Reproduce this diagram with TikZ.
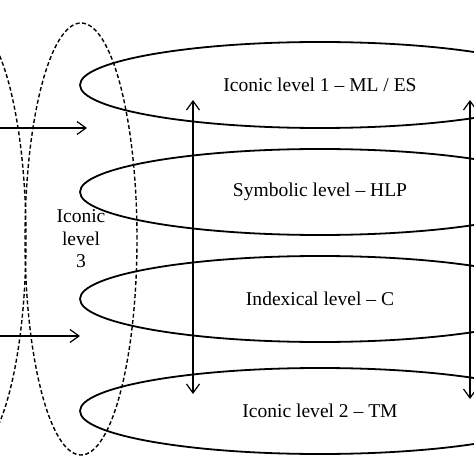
\documentclass[tikz,border=0pt]{standalone}
\usepackage{fontspec}
\setmainfont{Liberation Serif}
\usetikzlibrary{shapes.geometric,arrows.meta}

\begin{document}
\begin{tikzpicture}[
    x=1bp, y=-1bp,
    >={Straight Barb[length=9bp,width=13bp]},
    levelnode/.style={ellipse, draw=black, line width=1.8bp, minimum width=480bp, minimum height=86bp, inner sep=0pt, font=\fontsize{19.6}{22.6}\selectfont},
    dashednode/.style={ellipse, draw=black, line width=1.4bp, dash pattern=on 4bp off 2.5bp, minimum width=112bp, minimum height=432bp, inner sep=0pt, align=center, font=\fontsize{19.6}{22.6}\selectfont},
    flowline/.style={line width=1.2bp},
    ]
    \useasboundingbox (0,0) rectangle (474,474);
    \clip (0,0) rectangle (474,474);

    %Nodes
    \node[levelnode]  (iconic1)  at (320,85)  {Iconic level 1 -- ML / ES};
    \node[levelnode]  (symbolic) at (320,192) {Symbolic level -- HLP};
    \node[levelnode]  (indexical) at (320,299) {Indexical level -- C};
    \node[levelnode]  (iconic2)  at (320,411) {Iconic level 2 -- TM};
    \node[dashednode] (iconic3)  at (81,239)  {Iconic\\level\\3};
    \node[dashednode] (outer)    at (-30,239) {};

    % Arrow ends
    \coordinate (in1start) at (0,128);
    \coordinate (in1end)   at (87,128);
    \coordinate (in2start) at (0,336);
    \coordinate (in2end)   at (80,336);
    \coordinate (left1)    at (193,100);
    \coordinate (left2)    at (193,394);
    \coordinate (right1)   at (470,100);
    \coordinate (right2)   at (470,399);

    %Lines
    \draw[flowline, ->]  (in1start) -- (in1end);
    \draw[flowline, ->]  (in2start) -- (in2end);
    \draw[flowline, <->] (left1)    -- (left2);
    \draw[flowline, <->] (right1)   -- (right2);
\end{tikzpicture}
\end{document}
